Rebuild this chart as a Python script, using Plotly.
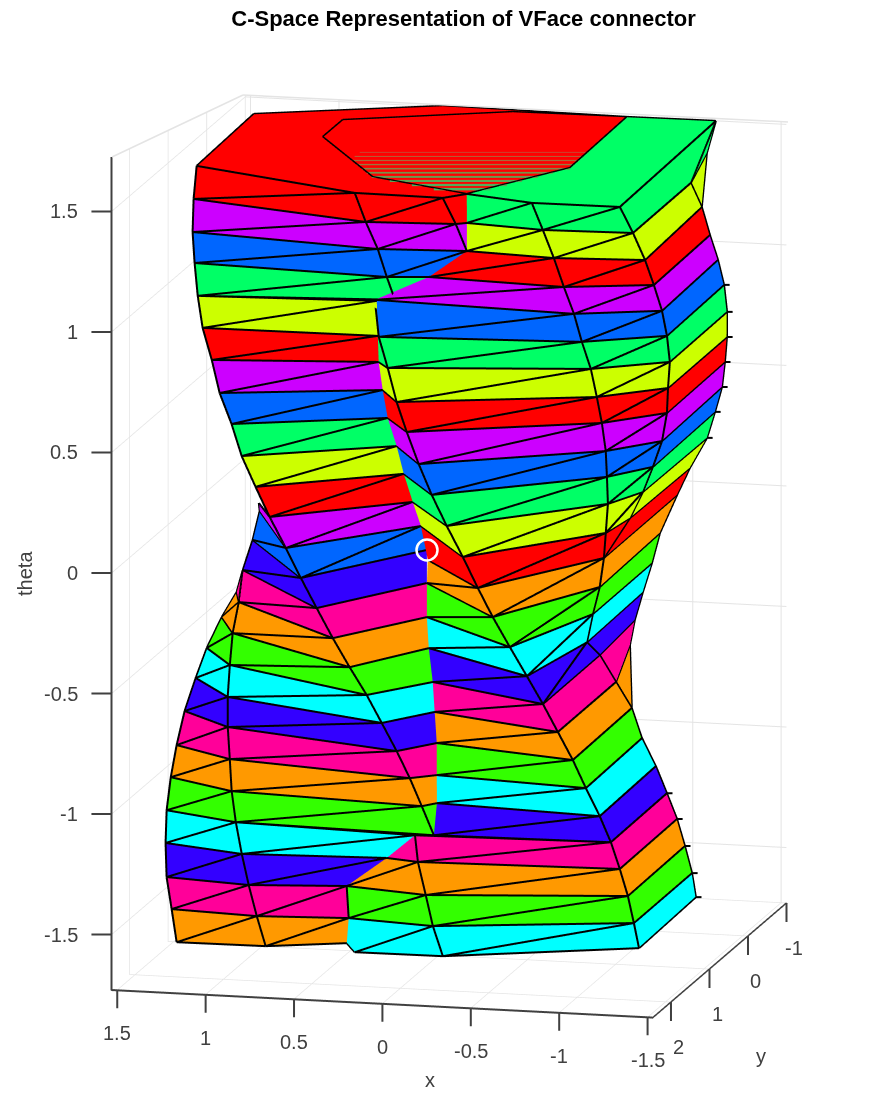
import plotly.graph_objects as go

# theta level of each ring of the mesh (ring 0 = top cap, ring 26 = bottom)
THETA = [1.571, 1.450, 1.329, 1.208, 1.088, 0.967, 0.846, 0.725, 0.604, 0.483, 0.363, 0.242, 0.121, 0.0,
         -0.121, -0.242, -0.363, -0.483, -0.604, -0.725, -0.846, -0.967, -1.088, -1.208, -1.329, -1.450, -1.571]

# meridians of the surface: x values, y values (y read with a +0.13 bias, removed below)
Y_BIAS = 0.13
A_X = [1.253, 1.245, 1.226, 1.204, 1.163, 1.119, 1.052, .986, .911, .839, .753, .672, .574, .489, .399, .307, .218, .134, .061, -.012, -.069, -.126, -.190]
A_Y = [1.663, 1.779, 1.892, 1.941, 2.048, 2.123, 2.193, 2.292, 2.327, 2.395, 2.429, 2.435, 2.465, 2.466, 2.469, 2.472, 2.444, 2.387, 2.331, 2.279, 2.200, 2.150, 2.130]
B_X = [.241, .183, .132, .091, .086]
B_Y = [2.205, 2.186, 2.108, 2.061, 1.874]
C_X = [-.260, -.310, -.356]
C_Y = [2.220, 2.113, 2.036]
G_X = [-.363, -.363, -.356, -.133]
G_Y = [2.071, 2.067, 2.036, 2.000]
K_X = [.176, .134, .149, .134, .115, .074, .043, .002, -.010, -.009]
K_Y = [1.930, 2.097, 2.007, 1.970, 1.928, 1.884, 1.841, 1.797, 1.640, 1.482]
L_X = [-.034, -.064, -.086, -.138, -.153, -.176, -.194, -.188, -.190]
L_Y = [1.594, 1.734, 1.785, 1.920, 1.939, 1.991, 2.074, 2.042, 2.130]
M_X = [.193, .123, .063, -.015, -.074, -.156, -.237, -.329, -.427, -.518, -.597, -.694, -.784, -.863, -.935, -1.008, -1.071, -1.138, -1.178, -1.212, -1.242, -1.261, -1.263]
M_Y = [1.904, 2.124, 2.166, 2.293, 2.301, 2.367, 2.402, 2.434, 2.465, 2.495, 2.470, 2.471, 2.443, 2.389, 2.332, 2.279, 2.229, 2.177, 2.072, 1.996, 1.924, 1.855, 1.731]
N_X = [-.077]
N_Y = [1.766]
D_X = [-.766, -.812, -.864, -.916, -.957, -.992, -1.027, -1.052, -1.059, -1.073, -1.060, -1.052, -1.040, -1.004, -.981, -.931, -.893]
D_Y = [2.233, 2.157, 2.110, 2.089, 2.015, 1.971, 1.898, 1.858, 1.759, 1.722, 1.632, 1.570, 1.570, 1.453, 1.456, 1.406, 1.384]
E_X = [-1.261, -1.312, -1.363, -1.384, -1.408, -1.409, -1.405, -1.376, -1.344, -1.311, -1.243, -1.164, -1.076]
E_Y = [2.220, 2.112, 2.034, 1.901, 1.800, 1.676, 1.583, 1.497, 1.378, 1.354, 1.279, 1.176, 1.106]
F_X = [-1.238, -1.309, -1.336, -1.372, -1.389, -1.396, -1.399, -1.373, -1.336, -1.295, -1.232, -1.170, -1.084, -1.002, -.966, -.929, -.880, -.830, -.778]
F_Y = [-.380, .597, .435, .390, .260, .134, .070, -.047, -.164, -.277, -.385, -.461, -.411, -.455, -.176, -.138, -.128, -.148, -.261]
W_X = [-1.208]
W_Y = [-.284]
P_X = [-.861, -.934, -.999, -1.059, -1.126, -1.172, -1.206, -1.235, -1.260, -1.249]
P_Y = [.904, .817, .706, .718, .665, .589, .483, .411, .341, .190]
S_X = [.817, .944, .983, 1.030, 1.107, 1.212, 1.280, 1.334, 1.369, 1.381, 1.394, 1.392, 1.374, 1.338, 1.293, 1.242]
S_Y = [2.051, 1.445, 1.449, 1.490, 1.296, 1.201, 1.276, 1.315, 1.443, 1.595, 1.687, 1.804, 1.914, 2.053, 2.128, 2.233]
T_X = [1.033, 1.054, 1.051, 1.045, 1.039, 1.010, .982, .948, .899, .850, .795, .742]
T_Y = [1.579, 1.642, 1.729, 1.812, 1.838, 1.918, 1.998, 2.046, 2.117, 2.162, 2.205, 2.217]
R_X = [-.089, -.091, -.157, -.207, -.266]
R_Y = [2.157, 2.090, 2.190, 2.234, 2.246]
X_X = [.100, .321, .292, .328]
X_Y = [2.021, 2.047, 2.128, 2.013]
Q_X = [.292, .229]
Q_Y = [2.128, 2.260]

# top cap outline (all at theta = THETA[0])
CAP_BACK_X = [1.272, .313, -.738]
CAP_BACK_Y = [.093, -.411, -.365]
INNER_X = [.760, .761, .245, -.751, -.098]
INNER_Y = [.134, .650, 1.722, 1.177, -.342]
STRIPE_X0 = [.470, .472, .463, .411, .359, .308, .256, .135, -.008, -.150]
STRIPE_Y0 = [1.025, 1.147, 1.265, 1.373, 1.480, 1.587, 1.694, 1.782, 1.865, 1.947]
STRIPE_X1 = [-.747, -.746, -.749, -.748, -.751, -.685, -.630, -.570, -.515, -.454]
STRIPE_Y1 = [.693, .815, .934, 1.057, 1.177, 1.316, 1.452, 1.589, 1.726, 1.864]
STRIPE_WIDTH = [.028, .032, .036, .04, .045, .05, .055, .06, .065, .07]
STRIPE_COLORS = ["#C8452F", "#B85A33", "#A86A3A", "#98783F", "#868645", "#76924A", "#689C50", "#5CA656", "#52AE5C", "#48B662"]

# rings where a short stub of a hidden line pokes out of the silhouette
STUB_F_RINGS = [5, 6, 7, 8, 9, 10, 11]
STUB_P_RINGS = [22, 23, 24, 25, 26]

X_TICKS = [-1.5, -1, -0.5, 0, 0.5, 1, 1.5]
Y_TICKS = [-1, 0, 1, 2]
Z_TICKS = [-1.5, -1, -0.5, 0, 0.5, 1, 1.5]
X_RANGE = [-1.53, 1.53]
Y_RANGE = [-1.0, 2.47]
Z_RANGE = [-1.73, 1.73]

UPPER_COLORS = ["#FF0000", "#CC00FF", "#0066FF", "#00FF66", "#CCFF00"]
LOWER_COLORS = ["#3300FF", "#FF0099", "#FF9900", "#33FF00", "#00FFFF"]

COLS = {
    "A": (0, A_X, A_Y), "B": (0, B_X, B_Y), "C": (0, C_X, C_Y), "G": (0, G_X, G_Y),
    "K": (4, K_X, K_Y), "L": (14, L_X, L_Y), "M": (4, M_X, M_Y), "N": (13, N_X, N_Y),
    "D": (0, D_X, D_Y), "E": (0, E_X, E_Y), "F": (0, F_X, F_Y), "W": (1, W_X, W_Y),
    "P": (17, P_X, P_Y), "S": (11, S_X, S_Y), "T": (15, T_X, T_Y), "R": (22, R_X, R_Y),
    "X": (23, X_X, X_Y), "Q": (25, Q_X, Q_Y),
}


def left_color(k):
    return UPPER_COLORS[k % 5] if k < 13 else LOWER_COLORS[(k - 13) % 5]


def right_color(k):
    return UPPER_COLORS[(k + 3) % 5] if k < 13 else LOWER_COLORS[(k - 11) % 5]


vx, vy, vz, ti, tj, tk, tc = [], [], [], [], [], [], []
index = {}
edges = set()


def pt(ref):
    name, ring = ref
    start, xs, ys = COLS[name]
    return xs[ring - start], ys[ring - start] - Y_BIAS, THETA[ring]


def raw(p):
    if p not in index:
        index[p] = len(vx)
        vx.append(p[0]); vy.append(p[1]); vz.append(p[2])
    return index[p]


def tri(a, b, c, col):
    ia, ib, ic = raw(pt(a)), raw(pt(b)), raw(pt(c))
    if len({ia, ib, ic}) == 3:
        ti.append(ia); tj.append(ib); tk.append(ic); tc.append(col)


def edge(a, b):
    pa, pb = pt(a), pt(b)
    if pa != pb:
        edges.add((min(pa, pb), max(pa, pb)))


def band(top, bot, col, diag=True, skip=()):
    n = len(top)
    for c in range(n - 1):
        tri(top[c], top[c + 1], bot[c], col)
        tri(top[c + 1], bot[c + 1], bot[c], col)
        edge(top[c], top[c + 1])
        edge(bot[c], bot[c + 1])
        d = diag if isinstance(diag, bool) else diag[c]
        if d:
            edge(bot[c], top[c + 1])
    for c in range(n):
        if c not in skip:
            edge(top[c], bot[c])


def row(names, k):
    return [(n, k) for n in names]


# ---- left piece
band(row("ABCG", 0), row("ABCG", 1), left_color(0), [True, True, False], skip=(3,))
band(row("ABCG", 1), [("A", 2), ("B", 2), ("C", 2), ("C", 2)], left_color(1), [True, True, False], skip=(3,))
band(row("ABC", 2), [("A", 3), ("B", 3), ("G", 3)], left_color(2), skip=(2,))
band([("A", 3), ("B", 3), ("G", 3)], [("A", 4), ("B", 4), ("B", 4)], left_color(3), [True, False], skip=(2,))
for k in range(4, 13):
    band(row("AK", k), row("AK", k + 1), left_color(k), skip=(1,))
band(row("SA", 11), row("SA", 12), left_color(11), False)
band(row("SA", 12), row("SA", 13), left_color(12))
band(row("SA", 13), row("SA", 14), left_color(13))
band([("A", 13), ("K", 13)], row("AL", 14), left_color(13), False, skip=(1,))
for k in range(14, 21):
    band(row("AL", k), row("AL", k + 1), left_color(k), False, skip=(1,))
band(row("AL", 21), [("A", 22), ("A", 22)], left_color(21), False, skip=(1,))
band([("S", 14), ("S", 14), ("A", 14)], row("STA", 15), left_color(14), skip=(0,))
edge(("S", 14), ("S", 15))
for k in range(15, 22):
    band(row("STA", k), row("STA", k + 1), left_color(k))
band([("S", 22), ("T", 22), ("R", 22)], row("STX", 23), left_color(22), skip=(2,))
for k in range(23, 26):
    band(row("STX", k), row("STX", k + 1), left_color(k), skip=(2,))

# ---- right piece
band(row("GDEF", 0), row("GDEF", 1), right_color(0), [True, True, False], skip=(0,))
band(row("GDEF", 1), row("GDEF", 2), right_color(1), [True, True, False], skip=(0,))
band(row("GDEF", 2), row("GDEF", 3), right_color(2), [True, True, False], skip=(0,))
band([("G", 3), ("G", 3), ("D", 3), ("E", 3), ("F", 3)], [("B", 4), ("M", 4), ("D", 4), ("E", 4), ("F", 4)],
     right_color(3), [False, True, True, False], skip=(0, 1))
for k in range(4, 12):
    band(row("MDEF", k), row("MDEF", k + 1), right_color(k), [True, True, False])
    band(row("KM", k), row("KM", k + 1), right_color(k), False, skip=(0,))
band(row("KM", 12), [("N", 13), ("M", 13)], right_color(12), False, skip=(0,))
band(row("MDEF", 12), [("M", 13), ("D", 13), ("D", 13), ("F", 13)], right_color(12), [True, True, False])
for k in range(13, 16):
    band(row("MDF", k), row("MDF", k + 1), right_color(k), [True, False])
band(row("MDF", 16), [("M", 17), ("P", 17), ("F", 17)], right_color(16), [True, False])
band([("M", 17), ("P", 17), ("F", 17)], row("MPF", 18), right_color(17), False)
band(row("MPF", 18), [("M", 19), ("P", 19), ("P", 19)], right_color(18), False)
for k in range(19, 26):
    band(row("MP", k), row("MP", k + 1), right_color(k), False)
band([("F", 0), ("F", 0)], [("F", 1), ("W", 1)], right_color(0), False)
band([("F", 1), ("W", 1)], [("F", 2), ("F", 2)], right_color(1), False)
band([("N", 13), ("M", 13)], row("LM", 14), right_color(13), skip=(0,))
for k in range(14, 21):
    band(row("LM", k), row("LM", k + 1), right_color(k), skip=(0,))
band(row("LM", 21), [("A", 22), ("M", 22)], right_color(21), skip=(0,))
band(row("RM", 22), row("RM", 23), right_color(22))
band([("R", 22), ("R", 22)], [("X", 23), ("R", 23)], right_color(22), False, skip=(0,))
band(row("XRM", 23), row("XRM", 24), right_color(23), skip=(0,))
band([("X", 24), ("R", 24), ("M", 24)], [("Q", 25), ("R", 25), ("M", 25)], right_color(24))
band([("Q", 25), ("Q", 25), ("R", 25), ("M", 25)], [("X", 26), ("Q", 26), ("R", 26), ("M", 26)], right_color(25), [False, True, True], skip=(0, 1))

# ---- top cap
THETA_TOP = THETA[0]


def cap_pt(xs, ys, i):
    return (xs[i], ys[i] - Y_BIAS, THETA_TOP)


A0, B0, C0, G0, D0, E0, F0 = [pt((n, 0)) for n in "ABCGDEF"]
C1, C2, C3 = [cap_pt(CAP_BACK_X, CAP_BACK_Y, i) for i in range(3)]
I0, I1, I2, I4, I6 = [cap_pt(INNER_X, INNER_Y, i) for i in range(5)]
red_loop = [A0, C1, C2, C3, I4, G0, C0, B0, A0]
for a, b in zip(red_loop, red_loop[1:]):
    ti.append(raw(I2)); tj.append(raw(a)); tk.append(raw(b)); tc.append(UPPER_COLORS[0])
green_loop = [C3, F0, E0, D0, G0]
for a, b in zip(green_loop, green_loop[1:]):
    ti.append(raw(I4)); tj.append(raw(a)); tk.append(raw(b)); tc.append(UPPER_COLORS[3])
cap_lines = [(A0, C1), (C1, C2), (C2, C3), (C3, F0), (I0, I1), (I1, I2), (I2, G0), (G0, I4), (I4, C3), (I0, I6), (I6, C3)]
for a, b in cap_lines:
    edges.add((min(a, b), max(a, b)))

# lines sit a little towards the viewer so that the faces do not hide them
VIEW = (-0.218, 1.0, 0.145)
LIFT = 0.012

# the mottled red/green part of the cap, as thin faces lying just above it
for x0, y0, x1, y1, w, col in zip(STRIPE_X0, STRIPE_Y0, STRIPE_X1, STRIPE_Y1, STRIPE_WIDTH, STRIPE_COLORS):
    def lifted(x, y):
        return (x + VIEW[0] * LIFT / 2, y - Y_BIAS + VIEW[1] * LIFT / 2, THETA_TOP + VIEW[2] * LIFT / 2)
    dx, dy = -0.218 * w, w
    a, b, c, d = lifted(x0, y0), lifted(x1, y1), lifted(x1 + dx, y1 + dy), lifted(x0 + dx, y0 + dy)
    ti += [raw(a), raw(a)]; tj += [raw(b), raw(c)]; tk += [raw(c), raw(d)]; tc += [col, col]

# stubs at the right silhouette
STUB = (-0.03, -0.008)
for name, rings in (("F", STUB_F_RINGS), ("P", STUB_P_RINGS)):
    for r in rings:
        p = pt((name, r))
        q = (p[0] + STUB[0], p[1] + STUB[1], p[2])
        edges.add((min(p, q), max(p, q)))

ex, ey, ez = [], [], []
for a, b in sorted(edges):
    for p in (a, b):
        ex.append(p[0] + VIEW[0] * LIFT); ey.append(p[1] + VIEW[1] * LIFT); ez.append(p[2] + VIEW[2] * LIFT)
    ex.append(None); ey.append(None); ez.append(None)

fig = go.Figure()
fig.add_trace(go.Mesh3d(x=vx, y=vy, z=vz, i=ti, j=tj, k=tk, facecolor=tc, flatshading=True,
                        lighting=dict(ambient=1, diffuse=0, specular=0, fresnel=0, roughness=1),
                        hoverinfo="skip", showscale=False))
fig.add_trace(go.Scatter3d(x=ex, y=ey, z=ez, mode="lines", line=dict(color="black", width=4),
                           hoverinfo="skip", showlegend=False))

FONT = "Liberation Sans, Arial, sans-serif"
TICK_FONT = dict(family=FONT, size=20, color="#404040")


def axis(rng, ticks):
    return dict(title=dict(text=""), range=rng, tickmode="array", tickvals=ticks, showticklabels=False,
                showbackground=False, showgrid=True, gridcolor="#E4E4E4", gridwidth=2, zeroline=False,
                showline=True, linecolor="#404040", linewidth=4, ticks="", showspikes=False)


def note(x, y, z, text, xshift=0, yshift=0, xanchor="center", angle=0):
    return dict(x=x, y=y, z=z, text=text, showarrow=False, xanchor=xanchor, yanchor="middle",
                xshift=xshift, yshift=yshift, textangle=angle, font=TICK_FONT)


def tick(x, y, z, ax, ay):
    return dict(x=x, y=y, z=z, text=" ", showarrow=True, arrowhead=0, arrowwidth=2, arrowcolor="#404040",
                ax=ax, ay=ay, standoff=0, startstandoff=0, font=dict(size=1))


notes = []
notes += [note(t, Y_RANGE[1], Z_RANGE[0], f"{t:g}", yshift=-43) for t in X_TICKS]
notes += [note(X_RANGE[0], t, Z_RANGE[0], f"{t:g}", xshift=8, yshift=-45) for t in Y_TICKS]
notes += [note(X_RANGE[1], Y_RANGE[1], t, f"{t:g}", xshift=-32, xanchor="right") for t in Z_TICKS]
notes.append(note(-0.27, Y_RANGE[1], Z_RANGE[0], "x", yshift=-74))
notes.append(note(X_RANGE[0], 0, Z_RANGE[0], "y", xshift=13, yshift=-120))
notes.append(note(X_RANGE[1], Y_RANGE[1], 0, "theta", xshift=-87, angle=-90))
notes += [tick(t, Y_RANGE[1], Z_RANGE[0], 0, 20) for t in X_TICKS]
notes += [tick(X_RANGE[0], t, Z_RANGE[0], 0, 21) for t in Y_TICKS]
notes += [tick(X_RANGE[1], Y_RANGE[1], t, -22, 0) for t in Z_TICKS]

PAGE = 8
W, H = 870, 1098


def px(x):
    return (x - PAGE) / W


def py(y):
    return 1 - (y - PAGE) / H


mask = "M {} {} L {} {} L {} {} L {} {} L {} {} L {} {} L {} {} Z".format(
    px(0), py(157), px(112), py(157), px(243), py(95), px(788), py(122), px(878), py(122), px(878), py(0), px(0), py(0))

fig.update_layout(
    width=W, height=H, margin=dict(l=0, r=0, t=0, b=0), paper_bgcolor="white", showlegend=False,
    title=dict(text="<b>C-Space Representation of VFace connector</b>", x=0.5236, xanchor="center", y=0.9909, yanchor="middle",
               font=dict(family=FONT, size=22, color="black")),
    shapes=[
        dict(type="path", path=mask, xref="paper", yref="paper", fillcolor="white", line=dict(width=0), layer="above"),
        dict(type="line", x0=px(112), y0=py(157), x1=px(243), y1=py(95), xref="paper", yref="paper", line=dict(color="#E4E4E4", width=1.5)),
        dict(type="line", x0=px(243), y0=py(95), x1=px(788), y1=py(122), xref="paper", yref="paper", line=dict(color="#E4E4E4", width=1.5)),
        dict(type="circle", x0=px(416.5), x1=px(437.5), y0=py(560.5), y1=py(539.5), xref="paper", yref="paper",
             line=dict(color="white", width=2.5), layer="above"),
    ],
    scene=dict(
        domain=dict(x=[0.0143, 1.0], y=[0.0692, 0.9809]),
        aspectmode="manual", aspectratio=dict(x=1.113, y=1.128, z=1.704),
        camera=dict(projection=dict(type="orthographic"), up=dict(x=0, y=0, z=1),
                    center=dict(x=0, y=0, z=0), eye=dict(x=-0.4632, y=1.9006, z=0.418)),
        xaxis=axis(X_RANGE, X_TICKS), yaxis=axis(Y_RANGE, Y_TICKS), zaxis=axis(Z_RANGE, Z_TICKS),
        annotations=notes,
    ),
)
fig.write_html("out.html")
